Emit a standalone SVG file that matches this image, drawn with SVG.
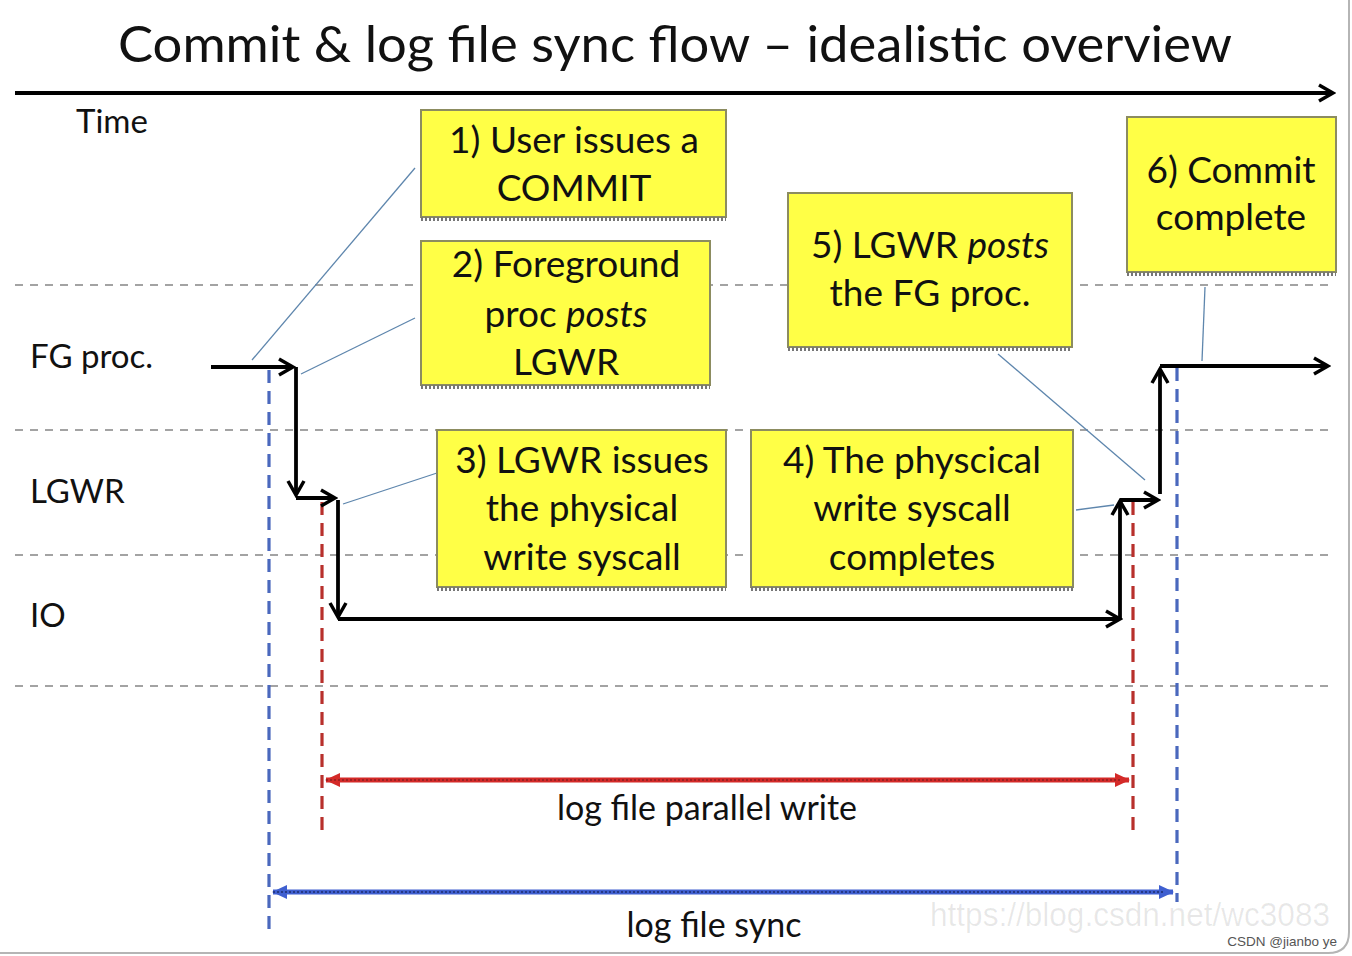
<svg xmlns="http://www.w3.org/2000/svg" width="1352" height="956" viewBox="0 0 1352 956">
<defs>
<marker id="chev" viewBox="0 0 20 20" refX="17" refY="10" markerWidth="20" markerHeight="20" markerUnits="userSpaceOnUse" orient="auto">
<path d="M3,2 L17,10 L3,18" fill="none" stroke="#000" stroke-width="3.5" stroke-linejoin="miter"/>
</marker>
<marker id="redTri" viewBox="0 0 16 16" refX="14" refY="8" markerWidth="16" markerHeight="16" markerUnits="userSpaceOnUse" orient="auto-start-reverse">
<path d="M0,1 L15,8 L0,15 Z" fill="#d42a28"/>
</marker>
<marker id="blueTri" viewBox="0 0 16 16" refX="14" refY="8" markerWidth="16" markerHeight="16" markerUnits="userSpaceOnUse" orient="auto-start-reverse">
<path d="M0,1 L15,8 L0,15 Z" fill="#3f5fd0"/>
</marker>
</defs>
<style>
.t{font-family:Lato,"Open Sans","Liberation Sans",sans-serif;fill:#111;}
.title{font-size:51px;}
.lab{font-size:33px;}
.bt{font-size:37px;text-anchor:middle;}
.box{fill:#ffff46;stroke:#8c8c60;stroke-width:2;}
.shadow{stroke:#777;stroke-width:4;stroke-dasharray:2,2;fill:none;}
.grid{stroke:#a3a3a3;stroke-width:2.2;stroke-dasharray:8,7;fill:none;}
.flow{stroke:#000;stroke-width:3.8;fill:none;marker-end:url(#chev);}
.call{stroke:#5e86ad;stroke-width:1.3;fill:none;}
.bdash{stroke:#4a68bd;stroke-width:3.2;stroke-dasharray:13,8;fill:none;}
.rdash{stroke:#b8302c;stroke-width:3.2;stroke-dasharray:13,8;fill:none;}
</style>
<rect width="1352" height="956" fill="#fff"/>
<path d="M1349,0 V932 Q1349,953 1328,953 H0" fill="none" stroke="#b5b5b5" stroke-width="2"/>

<text class="t title" x="118" y="62" textLength="1114" lengthAdjust="spacingAndGlyphs">Commit &amp; log file sync flow – idealistic overview</text>

<g id="axis">
<line x1="15" y1="93" x2="1333" y2="93" stroke="#000" stroke-width="4" marker-end="url(#chev)"/>
<text class="t lab" x="76" y="133">Time</text>
</g>

<g id="grid">
<line class="grid" x1="15" y1="285" x2="1335" y2="285"/>
<line class="grid" x1="15" y1="430" x2="1335" y2="430"/>
<line class="grid" x1="15" y1="555" x2="1335" y2="555"/>
<line class="grid" x1="15" y1="686" x2="1335" y2="686"/>
</g>

<g id="lanes">
<text class="t lab" x="30" y="368">FG proc.</text>
<text class="t lab" x="30" y="503">LGWR</text>
<text class="t lab" x="30" y="627">IO</text>
</g>

<g id="connectors">
<line class="bdash" x1="269" y1="370" x2="269" y2="932"/>
<line class="bdash" x1="1177" y1="368" x2="1177" y2="902"/>
<line class="rdash" x1="322" y1="502" x2="322" y2="830"/>
<line class="rdash" x1="1133" y1="502" x2="1133" y2="830"/>

<line x1="326" y1="780" x2="1129" y2="780" stroke="#d42a28" stroke-width="5" marker-start="url(#redTri)" marker-end="url(#redTri)"/>
<line x1="326" y1="780" x2="1120" y2="780" stroke="#8a2020" stroke-width="1.5" stroke-dasharray="2,2"/>
<line x1="273" y1="892" x2="1173" y2="892" stroke="#3f5fd0" stroke-width="5" marker-start="url(#blueTri)" marker-end="url(#blueTri)"/>
<line x1="273" y1="892" x2="1165" y2="892" stroke="#1e2e70" stroke-width="1.5" stroke-dasharray="2,2"/>

<path class="flow" d="M211,367 H293"/>
<path class="flow" d="M296,367 V495"/>
<path class="flow" d="M296,498 H335"/>
<path class="flow" d="M338,500 V617"/>
<path class="flow" d="M338,619 H1120"/>
<path class="flow" d="M1120,619 V501"/>
<path class="flow" d="M1120,500 H1158"/>
<path class="flow" d="M1160,494 V369"/>
<path class="flow" d="M1160,366 H1328"/>

<line class="call" x1="415" y1="168" x2="252" y2="360"/>
<line class="call" x1="415" y1="318" x2="301" y2="374"/>
<line class="call" x1="437" y1="473" x2="343" y2="504"/>
<line class="call" x1="1076" y1="510" x2="1114" y2="505"/>
<line class="call" x1="998" y1="354" x2="1145" y2="480"/>
<line class="call" x1="1205" y1="287" x2="1202" y2="361"/>
</g>

<g id="box1">
<rect class="box" x="421" y="110" width="305" height="107"/>
<line class="shadow" x1="421" y1="219" x2="726" y2="219"/>
<text class="t bt" x="574" y="153">1) User issues a</text>
<text class="t bt" x="574" y="201">COMMIT</text>
</g>
<g id="box2">
<rect class="box" x="421" y="241" width="289" height="144"/>
<line class="shadow" x1="421" y1="387" x2="710" y2="387"/>
<text class="t bt" x="566" y="277">2) Foreground</text>
<text class="t bt" x="566" y="327">proc <tspan font-style="italic">posts</tspan></text>
<text class="t bt" x="566" y="375">LGWR</text>
</g>
<g id="box3">
<rect class="box" x="437" y="430" width="289" height="157"/>
<line class="shadow" x1="437" y1="589" x2="726" y2="589"/>
<text class="t bt" x="582" y="473">3) LGWR issues</text>
<text class="t bt" x="582" y="521">the physical</text>
<text class="t bt" x="582" y="570">write syscall</text>
</g>
<g id="box4">
<rect class="box" x="751" y="430" width="322" height="157"/>
<line class="shadow" x1="751" y1="589" x2="1073" y2="589"/>
<text class="t bt" x="912" y="473">4) The physcical</text>
<text class="t bt" x="912" y="521">write syscall</text>
<text class="t bt" x="912" y="570">completes</text>
</g>
<g id="box5">
<rect class="box" x="788" y="193" width="284" height="154"/>
<line class="shadow" x1="788" y1="349" x2="1072" y2="349"/>
<text class="t bt" x="930" y="258">5) LGWR <tspan font-style="italic">posts</tspan></text>
<text class="t bt" x="930" y="306">the FG proc.</text>
</g>
<g id="box6">
<rect class="box" x="1127" y="117" width="209" height="155"/>
<line class="shadow" x1="1127" y1="274" x2="1336" y2="274"/>
<text class="t bt" x="1231" y="183">6) Commit</text>
<text class="t bt" x="1231" y="230">complete</text>
</g>

<g id="labels">
<text class="t" x="707" y="820" font-size="34" text-anchor="middle">log file parallel write</text>
<text class="t" x="714" y="937" font-size="34" text-anchor="middle">log file sync</text>
</g>

<g id="watermark">
<text x="930" y="926" font-family="'Liberation Sans',Arial,sans-serif" font-size="33" textLength="400" lengthAdjust="spacingAndGlyphs" fill="#000" fill-opacity="0.09">https://blog.csdn.net/wc3083</text>
<text x="1337" y="946" font-family="'Liberation Sans',Arial,sans-serif" font-size="13.5" fill="#555" text-anchor="end">CSDN @jianbo ye</text>
</g>
</svg>
